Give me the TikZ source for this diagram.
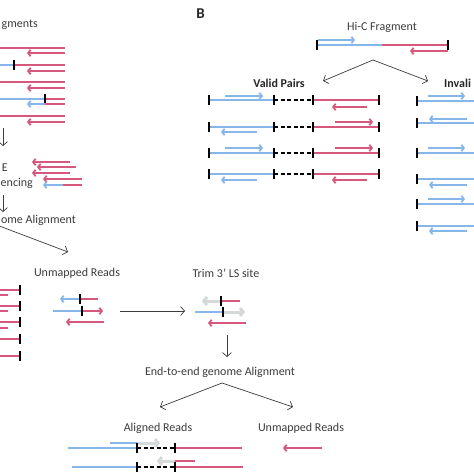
\documentclass[tikz,border=0pt]{standalone}
\usepackage{fontspec}
\setmainfont{Carlito}
\usetikzlibrary{arrows.meta}
\definecolor{pk}{RGB}{214,88,124}
\definecolor{bl}{RGB}{135,182,232}
\definecolor{gy}{RGB}{214,217,217}
\definecolor{tx}{RGB}{60,60,60}
\tikzset{
  frag/.style={line width=2pt},
  pkl/.style={frag, draw=pk},
  bll/.style={frag, draw=bl},
  rd/.style={line width=1.8pt, -{Straight Barb[length=2.5pt,width=6.5pt]}},
  gyrd/.style={line width=3pt, draw=gy, -{Straight Barb[length=3pt,width=8pt]}},
  tk/.style={draw=black, line width=1.3pt},
  conn/.style={draw=tx, line width=0.7pt, -{Straight Barb[length=4pt,width=9pt]}},
  dsh/.style={draw=black, line width=1.8pt, dash pattern=on 4pt off 2.5pt},
  lbl/.style={inner sep=0pt, font=\fontsize{12}{14}\selectfont, text=tx},
  blbl/.style={inner sep=0pt, font=\fontsize{12}{14}\selectfont\bfseries, text=black!85},
  tkmark/.pic={\draw[tk] (0,-5) -- (0,5);},
  vrow/.pic={
    \draw[bll] (0,0) -- (65,0);
    \draw[dsh] (65,0) -- (104,0);
    \draw[pkl] (104,0) -- (170,0);
    \draw[tk] (0,-5) -- (0,5);
    \draw[tk] (65,-5) -- (65,5);
    \draw[tk] (104,-5) -- (104,5);
    \draw[tk] (170,-5) -- (170,5);
  },
  irow/.pic={
    \draw[bll] (0,0) -- (70,0);
    \draw[tk] (0,-5) -- (0,5);
  },
}
\begin{document}
\begin{tikzpicture}[x=1pt,y=-1pt]
\useasboundingbox (0,0) rectangle (474,474);
\fill[white] (0,0) rectangle (474,474);

% ---------------- Panel A (cut) ----------------
\node[lbl, anchor=east] (fragA) at (38,25) {gments};
\draw[pkl] (0,48) -- (65,48); \draw[rd,pk] (65,53) -- (27,53);
\draw[bll] (0,65) -- (14,65); \draw[pkl] (14,65) -- (65,65); \pic at (14,65) {tkmark};
\draw[rd,pk] (65,71) -- (27,71);
\draw[pkl] (0,82) -- (65,82); \draw[rd,pk] (65,88) -- (27,88);
\draw[bll] (0,99) -- (45,99); \draw[pkl] (45,99) -- (65,99); \pic at (45,99) {tkmark};
\draw[pkl] (65,104) -- (45,104); \draw[rd,bl] (45,104) -- (27,104);
\draw[pkl] (0,116) -- (65,116); \draw[rd,pk] (65,122) -- (27,122);

\coordinate (d1s) at (3,128); \coordinate (d1e) at (3,146);
\draw[conn] (d1s) -- (d1e);

\node[lbl, anchor=east] (seq1) at (8,168) {E};
\node[lbl, anchor=east] (seq2) at (33,183) {encing};
\draw[rd,pk] (70,162) -- (32,162);
\draw[rd,pk] (76,167) -- (37,167);
\draw[rd,pk] (70,173) -- (32,173);
\draw[rd,pk] (82,179) -- (43,179);
\draw[pkl] (82,185) -- (63,185); \draw[rd,bl] (63,185) -- (43,185);

\coordinate (d2s) at (3,195); \coordinate (d2e) at (3,212);
\draw[conn] (d2s) -- (d2e);
\node[lbl, anchor=east] (genA) at (76,220) {ome Alignment};
\coordinate (g1s) at (-6,224); \coordinate (g1e) at (68,252);
\draw[conn] (g1s) -- (g1e);

% left aligned group (cut)
\foreach \yy in {290,306,322,339,356} {
  \draw[pkl] (0,\yy) -- (20,\yy); \pic at (20,\yy) {tkmark};
}
\foreach \yy in {295,311,328} { \draw[pkl] (0,\yy) -- (8,\yy); }

% unmapped reads
\node[lbl] (unmA) at (77,273) {Unmapped Reads};
\draw[pkl] (80,299) -- (98,299); \draw[rd,bl] (80,299) -- (60,299); \pic at (80,299) {tkmark};
\draw[bll] (53,311) -- (82,311); \draw[rd,pk] (82,311) -- (103,311); \pic at (82,311) {tkmark};
\draw[rd,pk] (104,322) -- (66,322);

\coordinate (h1s) at (120,311); \coordinate (h1e) at (185,311);
\draw[conn] (h1s) -- (h1e);

% trim
\node[lbl] (trim) at (226,273) {Trim 3’ LS site};
\draw[gyrd] (221,301) -- (202,301); \draw[pkl] (221,301) -- (240,301); \pic at (221,301) {tkmark};
\draw[bll] (195,312) -- (223,312); \draw[gyrd] (223,312) -- (245,312); \pic at (223,312) {tkmark};
\draw[rd,pk] (246,323) -- (208,323);

\coordinate (t1s) at (227,335); \coordinate (t1e) at (227,357);
\draw[conn] (t1s) -- (t1e);

\node[lbl] (e2e) at (220,372) {End-to-end genome Alignment};
\coordinate (eapex) at (222,383);
\coordinate (eL) at (160,407); \coordinate (eR) at (293,407);
\draw[conn] (eapex) -- (eL);
\draw[conn] (eapex) -- (eR);

\node[lbl] (aligned) at (158,428) {Aligned Reads};
\node[lbl] (unmB) at (301,428) {Unmapped Reads};

% aligned reads
\draw[bll] (68,448) -- (137,448); \draw[dsh] (137,448) -- (175,448); \draw[pkl] (175,448) -- (242,448);
\draw[bll] (110,443) -- (137,443); \draw[gyrd] (137,443) -- (160,443);
\pic at (137,448) {tkmark}; \pic at (175,448) {tkmark};
\draw[bll] (72,467) -- (137,467); \draw[dsh] (137,467) -- (175,467); \draw[pkl] (175,467) -- (243,467);
\draw[gyrd] (176,461) -- (157,461); \draw[pkl] (175,461) -- (195,461);
\pic at (137,467) {tkmark}; \pic at (175,467) {tkmark};
\draw[rd,pk] (322,448) -- (283,448);

% ---------------- Panel B ----------------
\node[blbl, font=\fontsize{15}{17}\selectfont\bfseries, anchor=east] (Blab) at (205,14) {B};
\node[lbl] (hic) at (382,27) {Hi-C Fragment};
\draw[bll] (317,45) -- (382,45); \draw[pkl] (382,45) -- (448,45);
\pic at (317,45) {tkmark}; \pic at (448,45) {tkmark};
\draw[rd,bl] (318,40) -- (355,40);
\draw[rd,pk] (448,51) -- (410,51);

\coordinate (hapex) at (373,60);
\coordinate (hL) at (323,81); \coordinate (hR) at (428,81);
\draw[conn] (hapex) -- (hL);
\draw[conn] (hapex) -- (hR);

\node[blbl] (valid) at (279,83) {Valid Pairs};
\node[blbl, anchor=west] (invalid) at (444,83) {Invali};

\pic at (209,100) {vrow};
\draw[rd,bl] (225,96) -- (263,96); \draw[rd,pk] (367,107) -- (332,107);
\pic at (209,127) {vrow};
\draw[rd,bl] (257,132) -- (221,132); \draw[rd,pk] (335,122) -- (373,122);
\pic at (209,153) {vrow};
\draw[rd,bl] (225,148) -- (263,148); \draw[rd,pk] (335,148) -- (373,148);
\pic at (209,174) {vrow};
\draw[rd,bl] (257,180) -- (221,180); \draw[rd,pk] (367,180) -- (332,180);

\pic at (417,101) {irow}; \draw[rd,bl] (428,96) -- (465,96);
\pic at (417,123) {irow}; \draw[rd,bl] (467,119) -- (429,119);
\pic at (417,153) {irow}; \draw[rd,bl] (428,148) -- (465,148);
\pic at (417,179) {irow}; \draw[rd,bl] (467,185) -- (429,185);
\pic at (417,204) {irow}; \draw[rd,bl] (428,199) -- (465,199);
\pic at (417,226) {irow}; \draw[rd,bl] (467,231) -- (429,231);
\end{tikzpicture}
\end{document}
